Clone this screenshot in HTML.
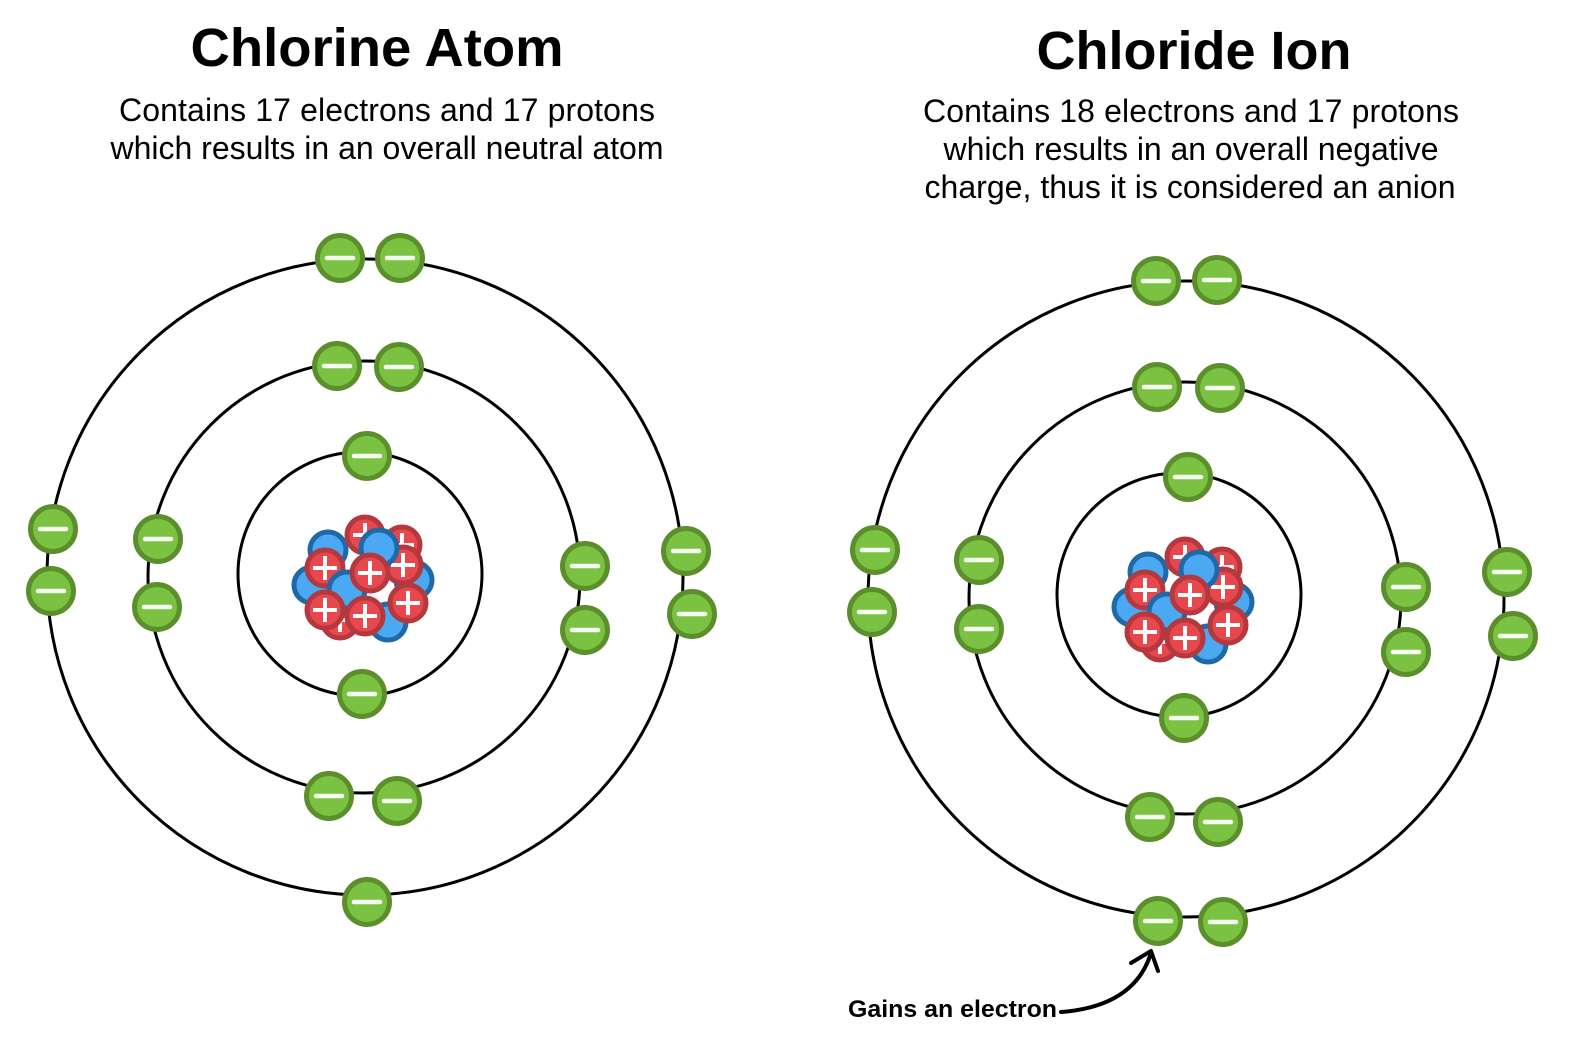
<!DOCTYPE html>
<html>
<head>
<meta charset="utf-8">
<style>
  html, body { margin: 0; padding: 0; background: #ffffff; }
  body { width: 1575px; height: 1045px; overflow: hidden; }
  svg { display: block; }
  .title { font-family: "Liberation Sans", Arial, sans-serif; font-weight: bold; font-size: 54px; fill: #000; }
  .sub { font-family: "Liberation Sans", Arial, sans-serif; font-size: 32px; fill: #000; }
  .lbl { font-family: "Liberation Sans", Arial, sans-serif; font-weight: bold; font-size: 24px; fill: #000; }
</style>
</head>
<body>
<svg width="1575" height="1045" viewBox="0 0 1575 1045" xmlns="http://www.w3.org/2000/svg">
  <defs>
    <g id="e">
      <circle r="22.5" fill="#7bc142" stroke="#5b8f2c" stroke-width="5"/>
      <line x1="-13" y1="0" x2="13" y2="0" stroke="#f6fbef" stroke-width="4.5" stroke-linecap="round"/>
    </g>
    <g id="p">
      <circle r="18" fill="#e9474e" stroke="#b3393e" stroke-width="5"/>
      <path d="M-12,0H12M0,-12V12" stroke="#ffffff" stroke-width="4"/>
    </g>
    <g id="n">
      <circle r="18" fill="#4ba8f2" stroke="#1f69a6" stroke-width="5"/>
    </g>
    <g id="nuc">
      <use href="#n" x="312" y="585"/>
      <use href="#n" x="388" y="622"/>
      <use href="#n" x="414" y="580"/>
      <use href="#p" x="402" y="545"/>
      <use href="#p" x="340" y="620"/>
      <use href="#n" x="328" y="550"/>
      <use href="#p" x="365" y="535"/>
      <use href="#p" x="403" y="565"/>
      <use href="#n" x="379" y="548"/>
      <use href="#p" x="325" y="568"/>
      <use href="#n" x="347" y="590"/>
      <use href="#p" x="370" y="573"/>
      <use href="#p" x="325" y="610"/>
      <use href="#p" x="365" y="616"/>
      <use href="#p" x="408" y="603"/>
    </g>
  </defs>

  <!-- Titles -->
  <text class="title" x="377" y="66" text-anchor="middle" textLength="373" lengthAdjust="spacingAndGlyphs">Chlorine Atom</text>
  <text class="sub" x="387" y="121" text-anchor="middle" textLength="536" lengthAdjust="spacing">Contains 17 electrons and 17 protons</text>
  <text class="sub" x="387" y="159" text-anchor="middle" textLength="553" lengthAdjust="spacing">which results in an overall neutral atom</text>

  <text class="title" x="1194" y="69" text-anchor="middle" textLength="315" lengthAdjust="spacingAndGlyphs">Chloride Ion</text>
  <text class="sub" x="1191" y="122" text-anchor="middle" textLength="536" lengthAdjust="spacing">Contains 18 electrons and 17 protons</text>
  <text class="sub" x="1191" y="160" text-anchor="middle" textLength="495" lengthAdjust="spacing">which results in an overall negative</text>
  <text class="sub" x="1190" y="198" text-anchor="middle" textLength="531" lengthAdjust="spacing">charge, thus it is considered an anion</text>

  <!-- Left atom orbits -->
  <g fill="none" stroke="#000" stroke-width="3">
    <circle cx="365" cy="577" r="318"/>
    <circle cx="364" cy="577" r="216"/>
    <circle cx="360" cy="574" r="122"/>
  </g>
  <use href="#nuc"/>

  <!-- Left electrons -->
  <use href="#e" x="340" y="258"/>
  <use href="#e" x="400" y="258"/>
  <use href="#e" x="53" y="529"/>
  <use href="#e" x="51" y="591"/>
  <use href="#e" x="686" y="551"/>
  <use href="#e" x="692" y="614"/>
  <use href="#e" x="367" y="902"/>

  <use href="#e" x="337" y="366"/>
  <use href="#e" x="399" y="367"/>
  <use href="#e" x="158" y="539"/>
  <use href="#e" x="157" y="607"/>
  <use href="#e" x="585" y="566"/>
  <use href="#e" x="585" y="630"/>
  <use href="#e" x="329" y="796"/>
  <use href="#e" x="397" y="801"/>

  <use href="#e" x="367" y="456"/>
  <use href="#e" x="362" y="694"/>

  <!-- Right atom orbits -->
  <g fill="none" stroke="#000" stroke-width="3">
    <circle cx="1186" cy="599" r="318"/>
    <circle cx="1185" cy="598" r="216"/>
    <circle cx="1179" cy="595" r="122"/>
  </g>
  <g transform="translate(820,22)"><use href="#nuc"/></g>

  <!-- Right electrons -->
  <use href="#e" x="1156" y="281"/>
  <use href="#e" x="1217" y="280"/>
  <use href="#e" x="875" y="550"/>
  <use href="#e" x="872" y="612"/>
  <use href="#e" x="1507" y="572"/>
  <use href="#e" x="1513" y="636"/>
  <use href="#e" x="1158" y="921"/>
  <use href="#e" x="1223" y="922"/>

  <use href="#e" x="1157" y="387"/>
  <use href="#e" x="1220" y="388"/>
  <use href="#e" x="979" y="560"/>
  <use href="#e" x="979" y="629"/>
  <use href="#e" x="1406" y="587"/>
  <use href="#e" x="1406" y="652"/>
  <use href="#e" x="1150" y="817"/>
  <use href="#e" x="1218" y="822"/>

  <use href="#e" x="1188" y="477"/>
  <use href="#e" x="1184" y="718"/>

  <!-- Arrow + label -->
  <text class="lbl" x="848" y="1017" textLength="209" lengthAdjust="spacingAndGlyphs">Gains an electron</text>
  <path d="M1061,1012 C1100,1009 1138,995 1151,953" fill="none" stroke="#000" stroke-width="4" stroke-linecap="round"/>
  <polyline points="1131,963 1151,951 1158,971" fill="none" stroke="#000" stroke-width="4" stroke-linecap="round" stroke-linejoin="round"/>
</svg>
</body>
</html>
